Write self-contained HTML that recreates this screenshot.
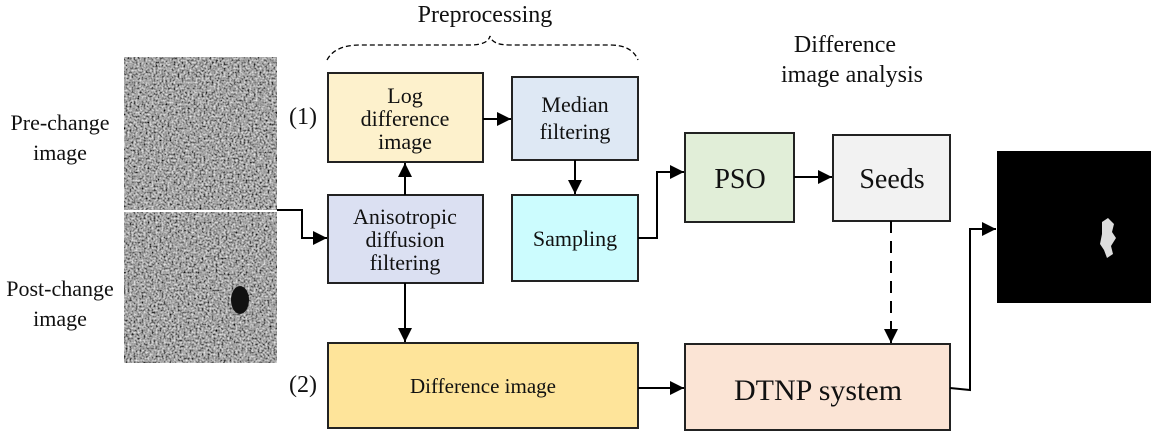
<!DOCTYPE html>
<html><head><style>body{margin:0;background:#fff}svg{display:block}svg text{font-family:"Liberation Serif","Times New Roman",serif;fill:#111}</style></head><body>
<svg width="1151" height="435" viewBox="0 0 1151 435" xmlns="http://www.w3.org/2000/svg" font-family="Liberation Serif, serif">
<defs>
<marker id="a" viewBox="0 0 10 10" refX="10" refY="5" markerWidth="14" markerHeight="14" markerUnits="userSpaceOnUse" orient="auto"><path d="M0,0L10,5L0,10z" fill="#000"/></marker>
<filter id="n" x="0" y="0" width="1" height="1"><feTurbulence type="fractalNoise" baseFrequency="0.5" numOctaves="3" seed="3"/><feColorMatrix type="matrix" values="1.3 0 0 0 -0.28  1.3 0 0 0 -0.28  1.3 0 0 0 -0.28  0 0 0 0 1"/></filter>
</defs>
<rect x="124" y="57" width="153" height="153" fill="#888" filter="url(#n)"/>
<rect x="124" y="212" width="153" height="151" fill="#888" filter="url(#n)"/>
<ellipse cx="240" cy="300" rx="9" ry="14" fill="#111"/>
<rect x="997" y="151" width="154" height="152" fill="#000"/>
<path d="M1102,222 l6,-4 l6,6 l-2,8 l4,6 l-5,8 l2,8 l-6,4 l-3,-8 l-4,-6 l2,-10z" fill="#ddd"/>
<text x="60" y="130" font-size="22" text-anchor="middle">Pre-change</text>
<text x="60" y="160" font-size="22" text-anchor="middle">image</text>
<text x="60" y="296" font-size="22" text-anchor="middle">Post-change</text>
<text x="60" y="326" font-size="22" text-anchor="middle">image</text>
<text x="485" y="22" font-size="24" text-anchor="middle">Preprocessing</text>
<path d="M327,60 Q335,45 360,45 L470,45 Q488,45 490,36 Q492,45 510,45 L610,45 Q632,45 638,60" fill="none" stroke="#000" stroke-width="1.3" stroke-dasharray="5,3"/>
<text x="845" y="52" font-size="24" text-anchor="middle">Difference</text>
<text x="852" y="82" font-size="24" text-anchor="middle">image analysis</text>
<text x="303" y="124" font-size="24" text-anchor="middle">(1)</text>
<text x="303" y="392" font-size="24" text-anchor="middle">(2)</text>
<g stroke="#222" stroke-width="2">
<rect x="328" y="73" width="155" height="89" fill="#fdf1cc"/>
<rect x="512" y="77" width="126" height="83" fill="#dee8f4"/>
<rect x="328" y="195" width="155" height="88" fill="#dbe0f2"/>
<rect x="512" y="195" width="126" height="86" fill="#ccfcfe"/>
<rect x="685" y="133" width="109" height="89" fill="#e1eed8"/>
<rect x="833" y="135" width="117" height="86" fill="#f2f2f2"/>
<rect x="328" y="343" width="310" height="85" fill="#fee49a"/>
<rect x="685" y="344" width="265" height="86" fill="#fbe4d5"/>
</g>
<g font-size="22" text-anchor="middle">
<text x="405" y="103">Log</text><text x="405" y="126">difference</text><text x="405" y="149">image</text>
<text x="575" y="112">Median</text><text x="575" y="139">filtering</text>
<text x="405" y="224">Anisotropic</text><text x="405" y="247">diffusion</text><text x="405" y="270">filtering</text>
<text x="575" y="246">Sampling</text>
<text x="483" y="393" font-size="21">Difference image</text>
</g>
<text x="740" y="188" font-size="28" text-anchor="middle">PSO</text>
<text x="892" y="188" font-size="28" text-anchor="middle">Seeds</text>
<text x="818" y="400" font-size="30" text-anchor="middle">DTNP system</text>
<g stroke="#000" stroke-width="2" fill="none">
<path d="M277,210 L302,210 L302,238 L327,238" marker-end="url(#a)"/>
<path d="M405,195 L405,163" marker-end="url(#a)"/>
<path d="M483,119 L511,119" marker-end="url(#a)"/>
<path d="M575,160 L575,194" marker-end="url(#a)"/>
<path d="M638,238 L657,238 L657,172 L684,172" marker-end="url(#a)"/>
<path d="M794,177 L832,177" marker-end="url(#a)"/>
<path d="M405,283 L405,342" marker-end="url(#a)"/>
<path d="M638,388 L684,388" marker-end="url(#a)"/>
<path d="M891,221 L891,343" stroke-dasharray="12,8" marker-end="url(#a)"/>
<path d="M950,388 L970,390 L970,229 L996,229" marker-end="url(#a)"/>
</g>
</svg>
</body></html>
